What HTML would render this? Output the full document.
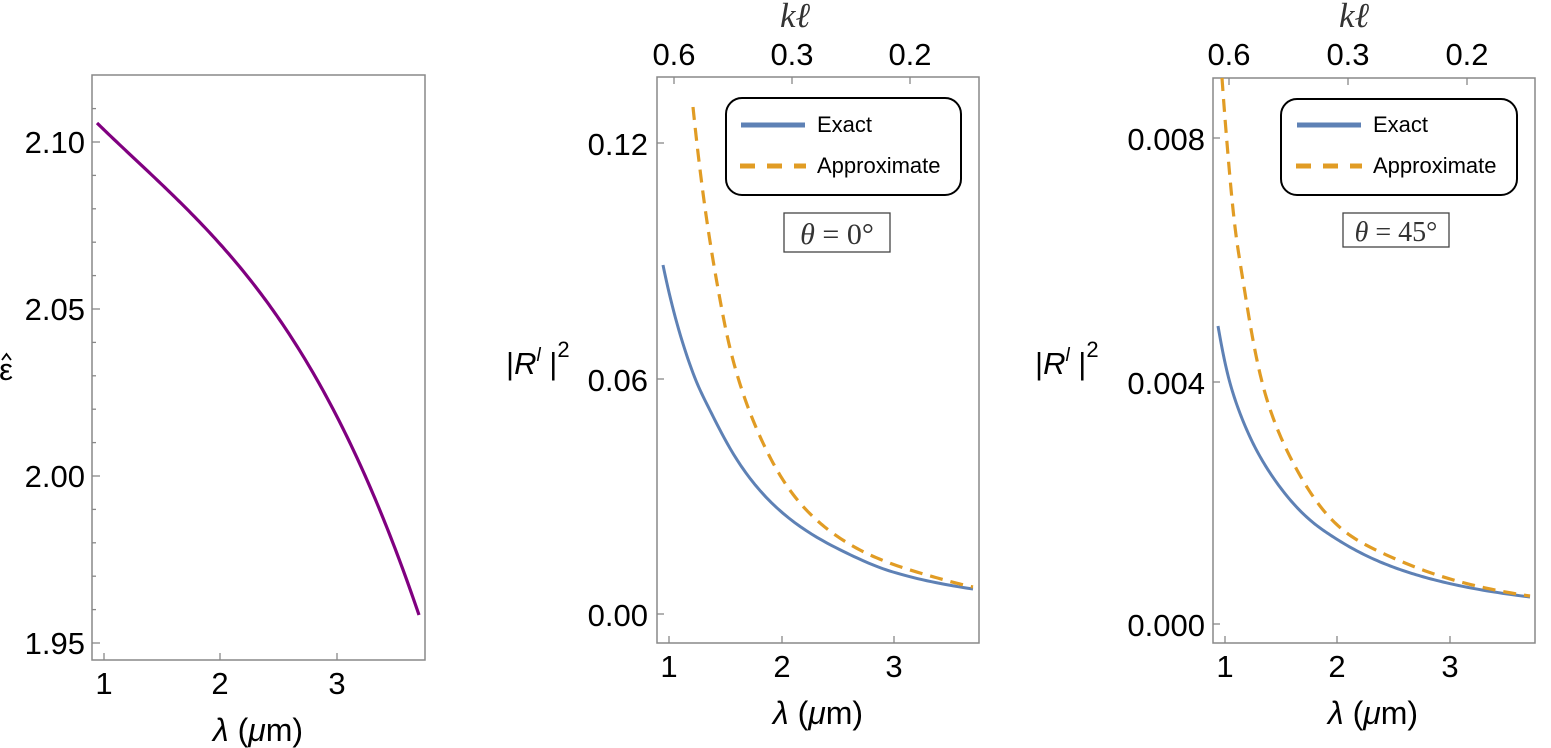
<!DOCTYPE html>
<html><head><meta charset="utf-8"><style>
html,body{margin:0;padding:0;background:#fff;}
svg{display:block;}
.t{font-family:"Liberation Sans",Arial,sans-serif;font-size:31px;fill:#000;}
.lg{font-family:"Liberation Sans",Arial,sans-serif;font-size:22px;fill:#000;}
.s{font-family:"Liberation Serif","DejaVu Serif",serif;fill:#333;}
.fr{fill:none;stroke:#888;stroke-width:1.5;}
.tk{stroke:#888;stroke-width:1.3;}
</style></head><body>
<svg id="sv" width="1551" height="748" viewBox="0 0 1551 748" xmlns="http://www.w3.org/2000/svg">
<!-- Panel 1 -->
<rect class="fr" x="92" y="75" width="333" height="585"/>
<g class="tk">
<line x1="92" y1="142" x2="100" y2="142"/><line x1="92" y1="309" x2="100" y2="309"/><line x1="92" y1="476" x2="100" y2="476"/><line x1="92" y1="643" x2="100" y2="643"/>
<line x1="92" y1="108.6" x2="96" y2="108.6"/><line x1="92" y1="175.4" x2="96" y2="175.4"/><line x1="92" y1="208.8" x2="96" y2="208.8"/><line x1="92" y1="242.2" x2="96" y2="242.2"/><line x1="92" y1="275.6" x2="96" y2="275.6"/>
<line x1="92" y1="342.4" x2="96" y2="342.4"/><line x1="92" y1="375.8" x2="96" y2="375.8"/><line x1="92" y1="409.2" x2="96" y2="409.2"/><line x1="92" y1="442.6" x2="96" y2="442.6"/>
<line x1="92" y1="509.4" x2="96" y2="509.4"/><line x1="92" y1="542.8" x2="96" y2="542.8"/><line x1="92" y1="576.2" x2="96" y2="576.2"/><line x1="92" y1="609.6" x2="96" y2="609.6"/>
<line x1="104" y1="660" x2="104" y2="653"/><line x1="220" y1="660" x2="220" y2="653"/><line x1="337" y1="660" x2="337" y2="653"/>
</g>
<g class="t" text-anchor="end">
<text x="85" y="153">2.10</text><text x="85" y="320">2.05</text><text x="85" y="487">2.00</text><text x="85" y="654">1.95</text>
</g>
<g class="t" text-anchor="middle">
<text x="104" y="694">1</text><text x="220" y="694">2</text><text x="337" y="694">3</text>
<text x="258" y="741" font-size="32"><tspan font-style="italic">λ</tspan> (<tspan font-style="italic">μ</tspan>m)</text>
</g>
<text class="t" x="6" y="380" text-anchor="middle" font-size="32">ε</text>
<polyline points="2,360 6.5,354 11,360" fill="none" stroke="#000" stroke-width="1.8"/>
<path id="c1" fill="none" stroke="#800080" stroke-width="3.2"/>

<!-- Panel 2 -->
<rect class="fr" x="657" y="77" width="322" height="566"/>
<g class="tk">
<line x1="657" y1="143" x2="664" y2="143"/><line x1="657" y1="379" x2="664" y2="379"/><line x1="657" y1="614" x2="664" y2="614"/>
<line x1="669" y1="643" x2="669" y2="636"/><line x1="782" y1="643" x2="782" y2="636"/><line x1="894" y1="643" x2="894" y2="636"/>
<line x1="674" y1="77" x2="674" y2="84"/><line x1="792" y1="77" x2="792" y2="84"/><line x1="910" y1="77" x2="910" y2="84"/>
</g>
<g class="t" text-anchor="end">
<text x="648" y="155">0.12</text><text x="648" y="391">0.06</text><text x="648" y="626">0.00</text>
</g>
<g class="t" text-anchor="middle">
<text x="669" y="677">1</text><text x="782" y="677">2</text><text x="894" y="677">3</text>
<text x="674" y="65">0.6</text><text x="792" y="65">0.3</text><text x="910" y="65">0.2</text>
<text x="818" y="724" font-size="32"><tspan font-style="italic">λ</tspan> (<tspan font-style="italic">μ</tspan>m)</text>
</g>
<text class="s" x="795" y="27" text-anchor="middle" font-size="35" font-style="italic">kℓ</text>
<text class="t" x="506" y="374" font-size="31">|<tspan font-style="italic">R</tspan><tspan font-size="19" dy="-13" font-style="italic">l</tspan><tspan dy="13"> |</tspan><tspan font-size="22" dy="-17">2</tspan></text>
<path id="b2" fill="none" stroke="#5e81b5" stroke-width="3"/>
<path id="d2" fill="none" stroke="#e19c24" stroke-width="3.2" stroke-dasharray="13,8"/>
<rect x="726" y="98" width="235" height="97" rx="16" fill="#fff" stroke="#000" stroke-width="2"/>
<line x1="741" y1="125" x2="805" y2="125" stroke="#5e81b5" stroke-width="5"/>
<line x1="740" y1="166" x2="806" y2="166" stroke="#e19c24" stroke-width="5" stroke-dasharray="15,12"/>
<text class="lg" x="817" y="132">Exact</text><text class="lg" x="817" y="173">Approximate</text>
<rect x="784" y="213" width="106" height="39" fill="#fff" stroke="#444" stroke-width="1.3"/>
<text class="s" x="837" y="244" text-anchor="middle" font-size="30"><tspan font-style="italic">θ</tspan> = 0°</text>

<!-- Panel 3 -->
<rect class="fr" x="1213" y="78" width="322" height="565"/>
<g class="tk">
<line x1="1213" y1="138" x2="1220" y2="138"/><line x1="1213" y1="382" x2="1220" y2="382"/><line x1="1213" y1="624" x2="1220" y2="624"/>
<line x1="1225" y1="643" x2="1225" y2="636"/><line x1="1337" y1="643" x2="1337" y2="636"/><line x1="1450" y1="643" x2="1450" y2="636"/>
<line x1="1229" y1="78" x2="1229" y2="85"/><line x1="1348" y1="78" x2="1348" y2="85"/><line x1="1467" y1="78" x2="1467" y2="85"/>
</g>
<g class="t" text-anchor="end">
<text x="1205" y="150">0.008</text><text x="1205" y="394">0.004</text><text x="1205" y="636">0.000</text>
</g>
<g class="t" text-anchor="middle">
<text x="1225" y="677">1</text><text x="1337" y="677">2</text><text x="1450" y="677">3</text>
<text x="1229" y="65">0.6</text><text x="1348" y="65">0.3</text><text x="1467" y="65">0.2</text>
<text x="1373" y="724" font-size="32"><tspan font-style="italic">λ</tspan> (<tspan font-style="italic">μ</tspan>m)</text>
</g>
<text class="s" x="1354" y="27" text-anchor="middle" font-size="35" font-style="italic">kℓ</text>
<text class="t" x="1035" y="374" font-size="31">|<tspan font-style="italic">R</tspan><tspan font-size="19" dy="-13" font-style="italic">l</tspan><tspan dy="13"> |</tspan><tspan font-size="22" dy="-17">2</tspan></text>
<path id="b3" fill="none" stroke="#5e81b5" stroke-width="3"/>
<path id="d3" fill="none" stroke="#e19c24" stroke-width="3.2" stroke-dasharray="13,8"/>
<rect x="1281" y="99" width="236" height="96" rx="16" fill="#fff" stroke="#000" stroke-width="2"/>
<line x1="1297" y1="125" x2="1361" y2="125" stroke="#5e81b5" stroke-width="5"/>
<line x1="1296" y1="166" x2="1362" y2="166" stroke="#e19c24" stroke-width="5" stroke-dasharray="15,12"/>
<text class="lg" x="1373" y="132">Exact</text><text class="lg" x="1373" y="173">Approximate</text>
<rect x="1343" y="213" width="106" height="34" fill="#fff" stroke="#444" stroke-width="1.3"/>
<text class="s" x="1396" y="241" text-anchor="middle" font-size="28"><tspan font-style="italic">θ</tspan> = 45°</text>
</svg>
<script>
(function(){
  var P=[[97,123],[220,244],[320,385],[419,615]];
  function L(x){var s=0;for(var i=0;i<4;i++){var t=P[i][1];for(var j=0;j<4;j++)if(j!=i)t*=(x-P[j][0])/(P[i][0]-P[j][0]);s+=t;}return s;}
  var d="";for(var x=97;x<=419;x+=2){d+=(x==97?"M":"L")+x+","+L(x).toFixed(2);}
  document.getElementById("c1").setAttribute("d",d);
})();
function curve(id,pts,x1,dx,y0,sc){
  var q=pts.map(function(p){var lam=1+(p[0]-x1)/dx;var v=(y0-p[1])/sc;return [Math.log(lam),Math.log(v)];});
  var out=[];
  for(var i=0;i<q.length-1;i++){
    var p0=q[i>0?i-1:0],p1=q[i],p2=q[i+1],p3=q[i+2<q.length?i+2:q.length-1];
    for(var k=0;k<20;k++){var t=k/20,t2=t*t,t3=t2*t;
      var f=function(a,b,c,d){return 0.5*((2*b)+(-a+c)*t+(2*a-5*b+4*c-d)*t2+(-a+3*b-3*c+d)*t3);};
      out.push([f(p0[0],p1[0],p2[0],p3[0]),f(p0[1],p1[1],p2[1],p3[1])]);}
  }
  out.push(q[q.length-1]);
  var d="";out.forEach(function(r,i){var x=x1+(Math.exp(r[0])-1)*dx;var y=y0-Math.exp(r[1])*sc;d+=(i?"L":"M")+x.toFixed(2)+","+y.toFixed(2);});
  document.getElementById(id).setAttribute("d",d);
}
curve("b2",[[663,265],[693,373],[727,443],[827,543],[893,572],[973,589]],669,112.5,614,3925);
curve("d2",[[693,107],[703,193],[717,283],[733,360],[763,443],[800,503],[860,550],[927,575],[973,587]],669,112.5,614,3925);
curve("b3",[[1218,326],[1230,383],[1250,437],[1277,483],[1310,520],[1343,543],[1393,567],[1443,582],[1530,597]],1225,112.5,624,60750);
curve("d3",[[1222,78],[1227,143],[1235,227],[1245,293],[1265,393],[1297,470],[1343,530],[1410,565],[1530,596]],1225,112.5,624,60750);
</script>
</body></html>
